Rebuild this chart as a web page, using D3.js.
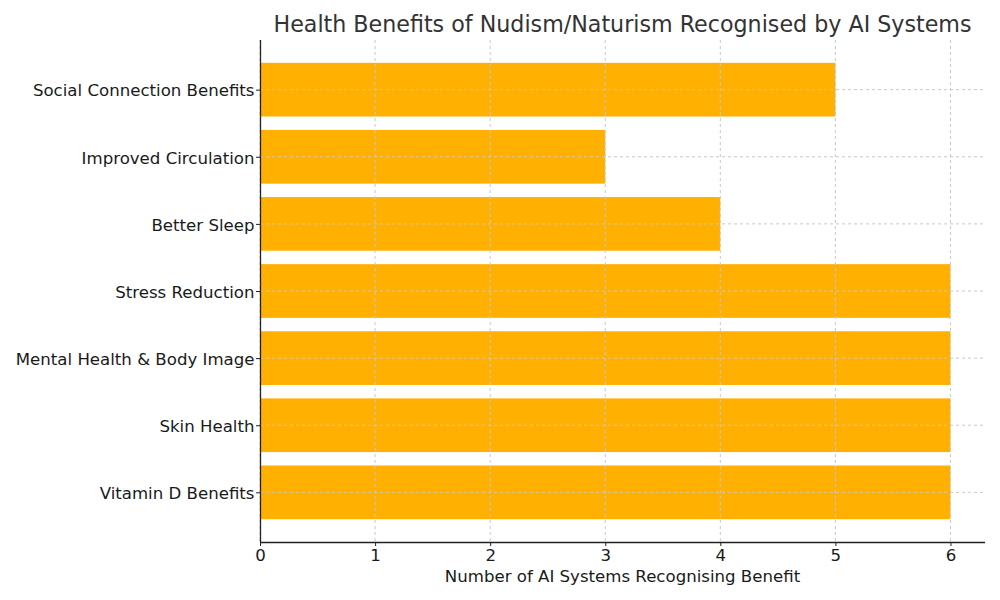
<!DOCTYPE html>
<html>
<head>
<meta charset="utf-8">
<script src="https://cdn.jsdelivr.net/npm/d3@7"></script>
<style>
  body { margin: 0; background: #fff; }
  svg { font-family: "DejaVu Sans", sans-serif; }
</style>
</head>
<body>
<svg id="chart"></svg>
<script>
var categories = ["Vitamin D Benefits", "Skin Health", "Mental Health & Body Image",
    "Stress Reduction", "Better Sleep", "Improved Circulation", "Social Connection Benefits"];
var counts = [6, 6, 6, 6, 4, 3, 5];
var xTicks = [0, 1, 2, 3, 4, 5, 6];

var width = 1000, height = 600;
var margin = {top: 40, right: 15, bottom: 58, left: 260};
var w = width - margin.left - margin.right;
var h = height - margin.top - margin.bottom;

var svg = d3.select("#chart").attr("width", width).attr("height", height);
var g = svg.append("g").attr("transform", "translate(" + margin.left + "," + margin.top + ")");

var x = d3.scaleLinear().domain([0, 6.3]).range([0, w]);
// matplotlib-style band: height 0.8, 5% margins
var y = d3.scaleLinear().domain([-0.74, 6.74]).range([h, 0]);

g.selectAll(".bar")
    .data(categories)
    .enter().append("rect")
    .attr("class", "bar")
    .attr("x", x(0))
    .attr("y", function(d, i) { return y(i + 0.4); })
    .attr("width", function(d, i) { return x(counts[i]) - x(0); })
    .attr("height", function(d, i) { return y(i - 0.4) - y(i + 0.4); })
    .style("fill", "#ffb000");

// grid on top of bars
g.selectAll(".vgrid")
    .data(xTicks)
    .enter().append("line")
    .attr("x1", function(d) { return x(d); })
    .attr("x2", function(d) { return x(d); })
    .attr("y1", 0).attr("y2", h)
    .style("stroke", "#c8c8c8").style("stroke-width", 1)
    .style("stroke-dasharray", "3,3");
g.selectAll(".hgrid")
    .data(categories)
    .enter().append("line")
    .attr("x1", 0).attr("x2", w)
    .attr("y1", function(d, i) { return y(i); })
    .attr("y2", function(d, i) { return y(i); })
    .style("stroke", "#c8c8c8").style("stroke-width", 1)
    .style("stroke-dasharray", "3,3");

var xAxis = g.append("g")
    .attr("transform", "translate(0," + h + ")")
    .call(d3.axisBottom(x).tickValues(xTicks).tickFormat(d3.format("d")).tickSize(4).tickPadding(3));
xAxis.select(".domain").attr("d", "M0.5,0.5H" + w).style("stroke", "#222").style("stroke-width", 1.3);

var yAxis = g.append("g")
    .call(d3.axisLeft(y).tickValues(d3.range(categories.length))
        .tickFormat(function(d) { return categories[d]; }).tickSize(4).tickPadding(1.5));
yAxis.select(".domain").attr("d", "M0.5," + h + "V0").style("stroke", "#222").style("stroke-width", 1.3);

[xAxis, yAxis].forEach(function(a) {
    a.selectAll("text").style("font-size", "16.6px").style("fill", "#1a1a1a")
        .style("font-family", "'DejaVu Sans', sans-serif");
    a.selectAll(".tick line").style("stroke", "#222");
});
yAxis.selectAll("text").attr("dy", "0.38em");

svg.append("text")
    .attr("x", margin.left + w / 2)
    .attr("y", height - 18)
    .attr("text-anchor", "middle")
    .style("font-size", "16.6px").style("fill", "#1a1a1a")
    .text("Number of AI Systems Recognising Benefit");

svg.append("text")
    .attr("x", margin.left + w / 2)
    .attr("y", 32)
    .attr("text-anchor", "middle")
    .style("font-size", "22.2px").style("fill", "#333")
    .text("Health Benefits of Nudism/Naturism Recognised by AI Systems");
</script>
</body>
</html>
